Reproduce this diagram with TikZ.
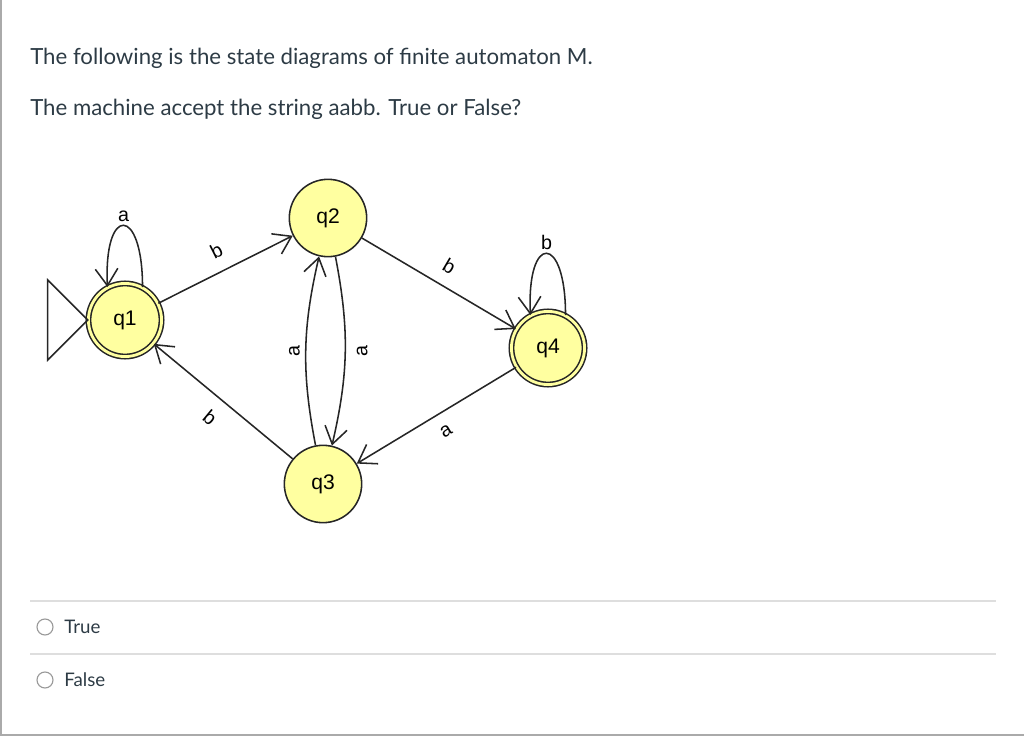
\documentclass[tikz,border=0pt]{standalone}
\usepackage{fontspec}
\setmainfont{Lato}
\newfontfamily\statefont{Liberation Sans}
\usepackage{xcolor}
\usetikzlibrary{arrows.meta,positioning}
\definecolor{stateyellow}{RGB}{255,255,160}
\definecolor{canvastext}{RGB}{45,59,69}
\definecolor{framegray}{RGB}{170,170,170}
\definecolor{sepgray}{RGB}{222,222,222}
\tikzset{
  state/.style={circle, draw=black!85, fill=stateyellow, line width=1.1pt, minimum size=55pt, inner sep=0pt,
    font=\statefont\fontsize{15pt}{17pt}\selectfont},
  accepting/.style={double=stateyellow, double distance=2pt, minimum size=52pt},
  edge/.style={draw=black!85, line width=1.1pt, -{Straight Barb[length=12pt,width=16pt]}},
  lbl/.style={font=\statefont\fontsize{14pt}{16pt}\selectfont, sloped, inner sep=1pt},
  qtext/.style={text=canvastext, font=\fontsize{15.8pt}{19pt}\selectfont, inner sep=0pt},
  opttext/.style={text=canvastext, font=\fontsize{13.3pt}{16pt}\selectfont, inner sep=0pt},
  radio/.style={circle, draw=gray!80, line width=0.8pt, minimum size=11.4pt, inner sep=0pt},
}
\begin{document}
\begin{tikzpicture}[x=0.025cm, y=-0.025cm]
  \useasboundingbox (0,0) rectangle (1024,740);
  % Frame
  \draw[framegray, line width=1.5pt] (1,0) -- (1,735) -- (1024,735);

  % Question
  \node[qtext, anchor=base west] (line1) at (30,65) {The following is the state diagrams of finite automaton M.};
  \node[qtext, anchor=base west] (line2) at (30,116) {The machine accept the string aabb. True or False?};

  % States
  \node[state, accepting] (q1) at (125,320) {q1};
  \node[state] (q2) at (328,218) {q2};
  \node[state] (q3) at (323,484) {q3};
  \node[state, accepting] (q4) at (548,348) {q4};

  % Start marker
  \draw[black!85, line width=1.1pt] (q1.west) -- ++(-40,-40) -- ++(0,80) -- cycle;

  % Transitions
  \draw[edge] (q1.62) .. controls +(0,-82) and +(-4,-82) .. node[lbl, above=1pt] {a} (q1.118);
  \draw[edge] (q1) -- node[lbl, above=8pt] {b} (q2);
  \draw[edge] (q2) -- node[lbl, above=8pt] {b} (q4);
  \draw[edge] (q4.62) .. controls +(0,-82) and +(-4,-82) .. node[lbl, above=1pt] {b} (q4.118);
  \draw[edge] (q2) to[bend left=12] node[lbl, sloped=false, xshift=12pt, rotate=90] {a} (q3);
  \draw[edge] (q3) to[bend left=12] node[lbl, sloped=false, xshift=-8pt, rotate=90] {a} (q2);
  \draw[edge] (q4) -- node[lbl, below=8pt] {a} (q3);
  \draw[edge] (q3) -- node[lbl, below=8pt] {b} (q1);

  % Answers
  \draw[sepgray, line width=0.8pt] (30,601) -- (996,601);
  \draw[sepgray, line width=0.8pt] (30,654) -- (996,654);
  \node[radio] (r1) at (45,627) {};
  \node[opttext, right=7.5pt of r1] (t1) {True};
  \node[radio] (r2) at (45,680) {};
  \node[opttext, right=7.5pt of r2] (t2) {False};
\end{tikzpicture}
\end{document}
